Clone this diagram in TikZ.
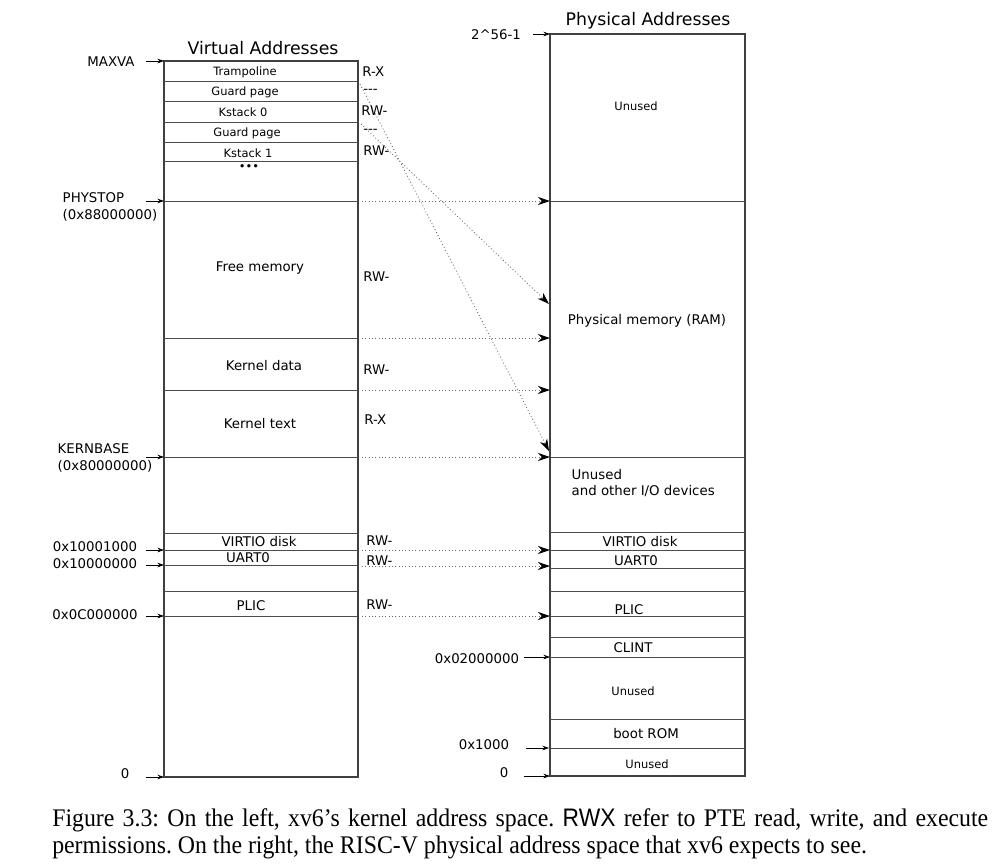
\documentclass[tikz,border=0pt]{standalone}
\usepackage{fontspec}
\setmainfont{Liberation Serif}
\setsansfont{DejaVu Sans}
\newfontfamily\capserif[FakeStretch=0.94]{Liberation Serif}
\newfontfamily\capsans[FakeStretch=0.9]{Liberation Sans}
\usetikzlibrary{arrows.meta,positioning}

\begin{document}
\begin{tikzpicture}[
  x=0.75pt, y=-0.75pt,
  font=\sffamily\fontsize{10}{12.4}\selectfont,
  frame/.style={draw=black!75, line width=1pt},
  divider/.style={draw=black!70, line width=0.7pt},
  small/.style={font=\sffamily\fontsize{8.6}{10}\selectfont},
  title/.style={font=\sffamily\fontsize{13}{15}\selectfont},
  perm/.style={anchor=west, inner sep=0pt},
  ptr/.style={-{Stealth[length=5pt, width=3.5pt]}, line width=0.6pt},
  map/.style={-{Stealth[length=9pt, width=6pt, black]}, draw=black!60, line width=0.6pt, dash pattern=on 0.7pt off 1.8pt}
]
  \useasboundingbox (0,0) rectangle (1007,865);

  % virtual address space
  \coordinate (vtl) at (164,61);
  \coordinate (vbr) at (358,777);
  \draw[frame] (vtl) rectangle (vbr);
  \foreach \y in {81,101,122,142,161,201,338,390,457,533,550,565,591,616}
    \draw[divider] (164,\y) -- (358,\y);

  \node[title] (vtitle) at (263,48) {Virtual Addresses};
  \node[small] (tramp) at (245,72) {Trampoline};
  \node[small] (guard0) at (245,92) {Guard page};
  \node[small] (kstack0) at (243,112) {Kstack 0};
  \node[small] (guard1) at (247,133) {Guard page};
  \node[small] (kstack1) at (248,153) {Kstack 1};
  \node[small] (vdots) at (249,168) {\textbullet\textbullet\textbullet};
  \node (free) at (260,268) {Free memory};
  \node (kdata) at (264,366) {Kernel data};
  \node (ktext) at (260,424) {Kernel text};
  \node (vvirtio) at (259,542) {VIRTIO disk};
  \node (vuart) at (248,558) {UART0};
  \node (vplic) at (251,606) {PLIC};

  % permissions
  \node[perm] (p-tramp) at (362,72) {R-X};
  \node[perm] (p-guard0) at (363,91) {-{}-{}-};
  \node[perm] (p-kstack0) at (361,111) {RW-};
  \node[perm] (p-guard1) at (363,131) {-{}-{}-};
  \node[perm] (p-kstack1) at (363,151) {RW-};
  \node[perm] (p-free) at (363,277) {RW-};
  \node[perm] (p-kdata) at (363,370) {RW-};
  \node[perm] (p-ktext) at (364,420) {R-X};
  \node[perm] (p-virtio) at (366,541) {RW-};
  \node[perm] (p-uart) at (366,561) {RW-};
  \node[perm] (p-plic) at (366,605) {RW-};

  % virtual addresses
  \node (maxva) at (111,62) {MAXVA};
  \node[anchor=west, align=left] (phystop) at (58,207) {PHYSTOP\\(0x88000000)};
  \node[anchor=west, align=left] (kernbase) at (53,458) {KERNBASE\\(0x80000000)};
  \node (a-virtio) at (95,547) {0x10001000};
  \node (a-uart) at (95,564) {0x10000000};
  \node (a-plic) at (95,615) {0x0C000000};
  \node (a-zero) at (125,774) {0};
  \foreach \name/\y in {maxva/61,phystop/201,kernbase/457,virtio/550,uart/565,plic/616,zero/777} {
    \coordinate (\name-tail) at (146,\y);
    \coordinate (\name-head) at (164,\y);
    \draw[ptr] (\name-tail) -- (\name-head);
  }

  % physical address space
  \coordinate (ptl) at (550,34);
  \coordinate (pbr) at (745,776);
  \draw[frame] (ptl) rectangle (pbr);
  \foreach \y in {201,457,532,550,568,591,616,637,657,719,748}
    \draw[divider] (550,\y) -- (745,\y);

  \node[title] (ptitle) at (648,21) {Physical Addresses};
  \node[small] (unused-top) at (636,106) {Unused};
  \node (ram) at (647,321) {Physical memory (RAM)};
  \node[anchor=west, align=left] (io) at (567,483) {Unused\\and other I/O devices};
  \node (pvirtio) at (640,542) {VIRTIO disk};
  \node (puart) at (636,561) {UART0};
  \node (pplic) at (629,610) {PLIC};
  \node (pclint) at (633,648) {CLINT};
  \node[small] (unused-mid) at (633,691) {Unused};
  \node (bootrom) at (646,734) {boot ROM};
  \node[small] (unused-low) at (647,764) {Unused};

  % physical addresses
  \node (a-top) at (496,35) {2\textasciicircum 56-1};
  \node (a-clint) at (477,659) {0x02000000};
  \node (a-rom) at (484,745) {0x1000};
  \node (a-pzero) at (504,773) {0};
  \coordinate (top-tail) at (533,34);   \coordinate (top-head) at (550,34);
  \coordinate (clint-tail) at (524,657); \coordinate (clint-head) at (550,657);
  \coordinate (rom-tail) at (526,748);  \coordinate (rom-head) at (549,748);
  \coordinate (pzero-tail) at (524,776); \coordinate (pzero-head) at (550,776);
  \foreach \name in {top,clint,rom,pzero}
    \draw[ptr] (\name-tail) -- (\name-head);

  % mappings
  \foreach \y in {201,338,390,457,550,566,616} {
    \coordinate (vm\y) at (362,\y);
    \coordinate (pm\y) at (550,\y);
    \draw[map] (vm\y) -- (pm\y);
  }
  \coordinate (ks0) at (360,84);
  \coordinate (ks0-ram) at (549,451);
  \coordinate (ks1) at (361,124);
  \coordinate (ks1-ram) at (549,304);
  \draw[map] (ks0) -- (ks0-ram);
  \draw[map] (ks1) -- (ks1-ram);

  \node[anchor=north west, text width=702pt, align=justify, inner sep=0pt,
        font=\capserif\fontsize{19}{20.7}\selectfont\frenchspacing] (caption) at (52,808)
    {Figure 3.3: On the left, xv6’s kernel address space. {\capsans RWX} refer to PTE read, write, and execute\linebreak
     permissions. On the right, the RISC-V physical address space that xv6 expects to see.};
\end{tikzpicture}
\end{document}
